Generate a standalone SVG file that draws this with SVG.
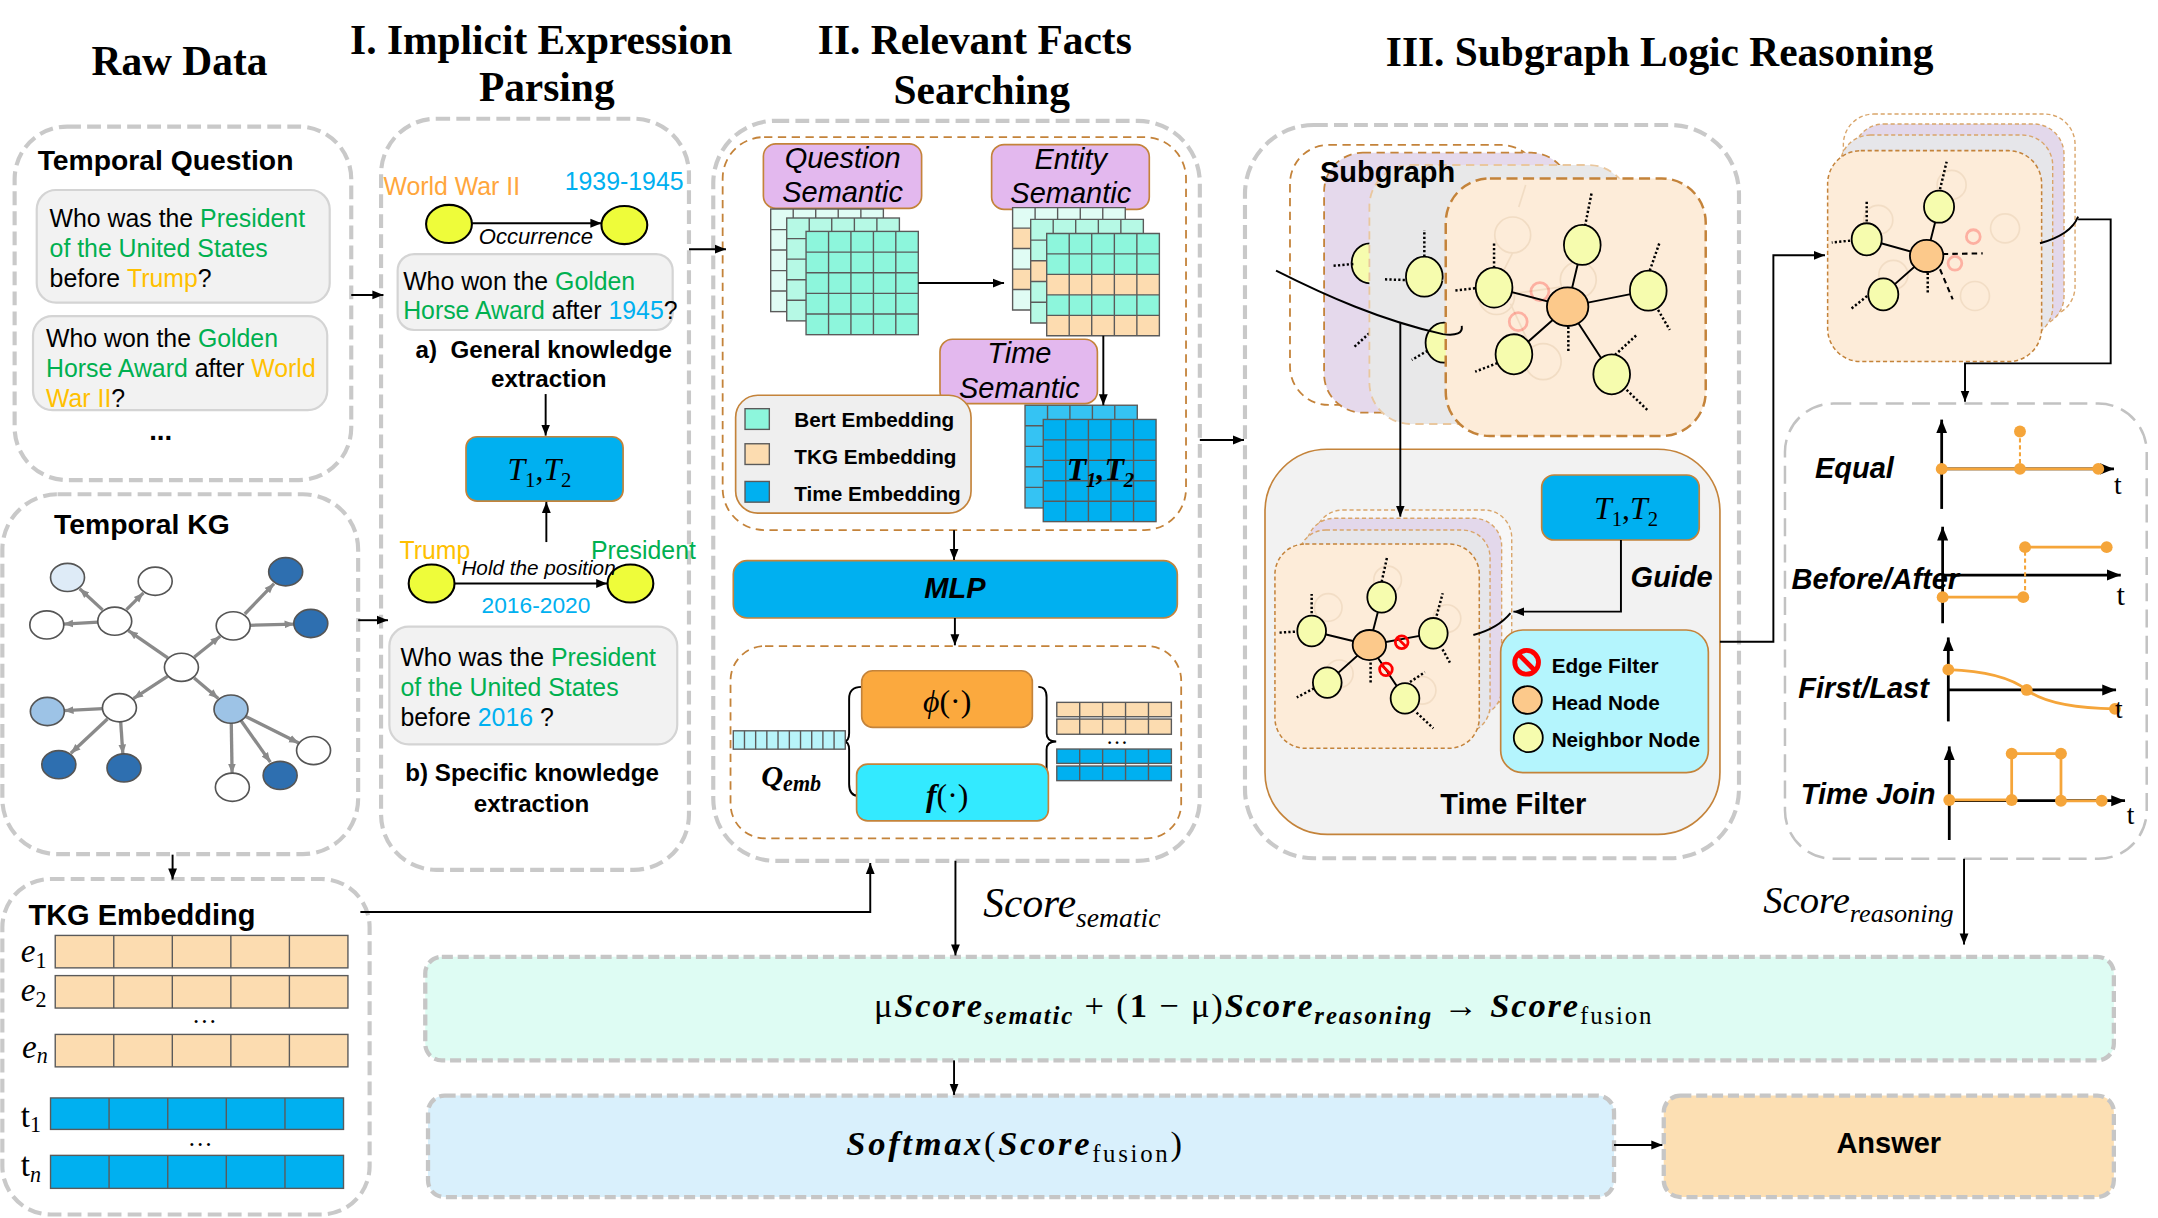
<svg xmlns="http://www.w3.org/2000/svg" width="2158" height="1218" viewBox="0 0 2158 1218">
<defs>
<style>
.ttl{font-family:"Liberation Serif","Times New Roman",serif;font-weight:bold;font-size:30px;fill:#000}
.sans{font-family:"Liberation Sans",Arial,sans-serif}
.serif{font-family:"Liberation Serif","Times New Roman",serif}
.b{font-weight:bold}
.i{font-style:italic}
.gb{fill:none;stroke:#c9c9c9;stroke-width:3;stroke-dasharray:10 4.5}
.qb{fill:#f2f2f2;stroke:#d4d4d4;stroke-width:1.6}
.cg{fill:#00b050}.cy{fill:#ffc000}.co{fill:#ffa63c}.cb{fill:#00b0f0}
.ln{fill:none;stroke:#000;stroke-width:1.4}
.od{fill:none;stroke:#c4833a;stroke-width:1.3;stroke-dasharray:6 4}
.ods{stroke:#c4833a;stroke-width:1.3;stroke-dasharray:6 4}
.cl{stroke:#5a5a5a;stroke-width:1}
.ye{fill:#eefc3a;stroke:#000;stroke-width:1.5}
.nb{fill:#f6fcae;stroke:#000;stroke-width:1.3}
.hd{fill:#fcc98b;stroke:#000;stroke-width:1.3}
.dt{fill:none;stroke:#000;stroke-width:1.8;stroke-dasharray:1.6 1.6}
.kg{stroke:#8a8a8a;stroke-width:2.4;fill:none}
.kn{stroke:#555;stroke-width:1.2}
.op{fill:none;stroke:#f5a53a;stroke-width:2}
.opd{fill:none;stroke:#f5a53a;stroke-width:1.5;stroke-dasharray:3 2}
.ax{fill:none;stroke:#000;stroke-width:2}
.fb{stroke:#c6c6c6;stroke-width:3.1;stroke-dasharray:8 3.5}
.ob{stroke:#c4833a;stroke-width:1.2}
.rf{fill:none;stroke:#f00;stroke-width:3.5}
.rs{fill:none;stroke:#f00;stroke-width:2}
</style>
<marker id="ah" viewBox="0 0 10 10" refX="10" refY="5" markerWidth="8" markerHeight="8" markerUnits="userSpaceOnUse" orient="auto"><path d="M0 1L10 5L0 9Z" fill="#000"/></marker>
<marker id="ahx" viewBox="0 0 10 10" refX="10" refY="5" markerWidth="10" markerHeight="10" markerUnits="userSpaceOnUse" orient="auto"><path d="M0 1L10 5L0 9Z" fill="#000"/></marker>
<marker id="ahg" viewBox="0 0 10 10" refX="10" refY="5" markerWidth="7" markerHeight="7" markerUnits="userSpaceOnUse" orient="auto"><path d="M0 1L10 5L0 9Z" fill="#8a8a8a"/></marker>
</defs>
<rect width="2158" height="1218" fill="#fff"/>
<g transform="scale(1.3807)">

<g id="titles">
<text class="ttl" x="130" y="54" text-anchor="middle">Raw Data</text>
<text class="ttl" x="392" y="39" text-anchor="middle">I. Implicit Expression</text>
<text class="ttl" x="396" y="73" text-anchor="middle">Parsing</text>
<text class="ttl" x="706" y="39" text-anchor="middle">II. Relevant Facts</text>
<text class="ttl" x="711" y="75" text-anchor="middle">Searching</text>
<text class="ttl" x="1202" y="48" text-anchor="middle">III. Subgraph Logic Reasoning</text>
</g>

<g id="temporal-question">
<rect class="gb" x="10.6" y="91.7" width="243.8" height="256" rx="38"/>
<text class="sans b" x="27.3" y="123" font-size="20.5">Temporal Question</text>
<rect class="qb" x="26.6" y="137.6" width="212.2" height="81.6" rx="14"/>
<text class="sans" font-size="18" x="35.9" y="164.2">Who was the <tspan class="cg">President</tspan></text>
<text class="sans cg" font-size="18" x="35.9" y="186">of the United States</text>
<text class="sans" font-size="18" x="35.9" y="207.6">before <tspan class="cy">Trump</tspan>?</text>
<rect class="qb" x="23.9" y="228.9" width="213.1" height="68.1" rx="14"/>
<text class="sans" font-size="18" x="33.3" y="251">Who won the <tspan class="cg">Golden</tspan></text>
<text class="sans" font-size="18" x="33.3" y="272.8"><tspan class="cg">Horse Award</tspan> after <tspan class="cy">World</tspan></text>
<text class="sans" font-size="18" x="33.3" y="294.5"><tspan class="cy">War II</tspan>?</text>
<text class="sans b" font-size="20" x="116.4" y="318.7" text-anchor="middle">...</text>
</g>

<g id="temporal-kg">
<rect class="gb" x="1.7" y="358" width="257.7" height="260.6" rx="40"/>
<text class="sans b" x="39.2" y="386.8" font-size="20.5">Temporal KG</text>
<g marker-end="url(#ahg)">
<line class="kg" x1="121.5" y1="476.5" x2="93" y2="456.7"/>
<line class="kg" x1="140.8" y1="475.8" x2="159.5" y2="460.8"/>
<line class="kg" x1="121.3" y1="489.9" x2="96.6" y2="506"/>
<line class="kg" x1="140.6" y1="491" x2="158.1" y2="505.9"/>
<line class="kg" x1="74.3" y1="441.7" x2="57.7" y2="426.4"/>
<line class="kg" x1="91.6" y1="441.5" x2="103.9" y2="429.4"/>
<line class="kg" x1="71.1" y1="450.6" x2="45.9" y2="452"/>
<line class="kg" x1="177.3" y1="444.7" x2="198.5" y2="422.7"/>
<line class="kg" x1="180.9" y1="452.9" x2="213.1" y2="452"/>
<line class="kg" x1="74.5" y1="513.2" x2="46.3" y2="514.7"/>
<line class="kg" x1="77.8" y1="520.8" x2="51.3" y2="545.6"/>
<line class="kg" x1="87.4" y1="522.6" x2="89" y2="546.2"/>
<line class="kg" x1="178" y1="519" x2="216.4" y2="538.2"/>
<line class="kg" x1="167.5" y1="523.6" x2="168.1" y2="560.2"/>
<line class="kg" x1="174.4" y1="521.6" x2="195.8" y2="552"/>
</g>
<g class="kn">
<ellipse cx="131.4" cy="483.3" rx="12.3" ry="10.2" fill="#fff"/>
<ellipse cx="83.1" cy="449.9" rx="12.3" ry="10.2" fill="#fff"/>
<ellipse cx="168.9" cy="453.3" rx="12.3" ry="10.2" fill="#fff"/>
<ellipse cx="86.5" cy="512.6" rx="12.3" ry="10.2" fill="#fff"/>
<ellipse cx="167.3" cy="513.6" rx="12.3" ry="10.2" fill="#9dc3e6"/>
<ellipse cx="48.9" cy="418.2" rx="12.3" ry="10.2" fill="#deebf7"/>
<ellipse cx="112.4" cy="421" rx="12.3" ry="10.2" fill="#fff"/>
<ellipse cx="33.9" cy="452.6" rx="12.3" ry="10.2" fill="#fff"/>
<ellipse cx="206.9" cy="414.1" rx="12.3" ry="10.2" fill="#2e6fb0"/>
<ellipse cx="225.1" cy="451.6" rx="12.3" ry="10.2" fill="#2e6fb0"/>
<ellipse cx="34.3" cy="515.3" rx="12.3" ry="10.2" fill="#9dc3e6"/>
<ellipse cx="42.6" cy="553.8" rx="12.3" ry="10.2" fill="#2e6fb0"/>
<ellipse cx="89.8" cy="556.2" rx="12.3" ry="10.2" fill="#2e6fb0"/>
<ellipse cx="227.1" cy="543.6" rx="12.3" ry="10.2" fill="#fff"/>
<ellipse cx="168.3" cy="570.2" rx="12.3" ry="10.2" fill="#fff"/>
<ellipse cx="202.9" cy="561.6" rx="12.3" ry="10.2" fill="#2e6fb0"/>
</g>
</g>

<g id="tkg-embedding">
<rect class="gb" x="1.7" y="636.6" width="266" height="243" rx="35"/>
<text class="sans b" x="20.6" y="669.7" font-size="21">TKG Embedding</text>
<g class="cl" fill="#fcdcb0">
<rect x="40" y="677.5" width="212" height="23.5"/>
<rect x="40" y="706.6" width="212" height="23.5"/>
<rect x="40" y="749.2" width="212" height="23.5"/>
</g>
<path class="cl" fill="none" d="M82.4 677.5V701M124.8 677.5V701M167.2 677.5V701M209.6 677.5V701M82.4 706.6V730.1M124.8 706.6V730.1M167.2 706.6V730.1M209.6 706.6V730.1M82.4 749.2V772.7M124.8 749.2V772.7M167.2 749.2V772.7M209.6 749.2V772.7"/>
<g class="cl" fill="#00b0f0">
<rect x="36.6" y="795.2" width="212.2" height="22.8"/>
<rect x="36.6" y="836.8" width="212.2" height="23.9"/>
</g>
<path class="cl" fill="none" d="M79 795.2V818M121.5 795.2V818M163.9 795.2V818M206.4 795.2V818M79 836.8V860.7M121.5 836.8V860.7M163.9 836.8V860.7M206.4 836.8V860.7"/>
<text class="serif" font-size="18" x="148" y="741" text-anchor="middle">…</text>
<text class="serif" font-size="18" x="145" y="830" text-anchor="middle">…</text>
<text class="serif i" font-size="24" x="15" y="697">e<tspan font-style="normal" font-size="16" dy="4">1</tspan></text>
<text class="serif i" font-size="24" x="15" y="725">e<tspan font-style="normal" font-size="16" dy="4">2</tspan></text>
<text class="serif i" font-size="24" x="16" y="766">e<tspan font-size="16" dy="4">n</tspan></text>
<text class="serif" font-size="24" x="15" y="816">t<tspan font-size="16" dy="4">1</tspan></text>
<text class="serif" font-size="24" x="15" y="852">t<tspan class="i" font-size="16" dy="4">n</tspan></text>
</g>

<g id="implicit-parsing">
<rect class="gb" x="276" y="86" width="223" height="544" rx="40"/>
<text class="sans co" font-size="18" x="277.7" y="141.2">World War II</text>
<text class="sans cb" font-size="18" x="409" y="137.6">1939-1945</text>
<ellipse class="ye" cx="325.2" cy="162.2" rx="16.6" ry="13.8"/>
<ellipse class="ye" cx="452.2" cy="163" rx="16.6" ry="13.8"/>
<text class="sans i" font-size="16" x="346.8" y="176.5">Occurrence</text>
<rect class="qb" x="288" y="184" width="199.2" height="55" rx="12"/>
<text class="sans" font-size="18" x="292" y="210">Who won the <tspan class="cg">Golden</tspan></text>
<text class="sans" font-size="18" x="292" y="231.3"><tspan class="cg">Horse Award</tspan> after <tspan class="cb">1945</tspan>?</text>
<text class="sans b" font-size="17.5" x="301" y="259.5" xml:space="preserve">a)  General knowledge</text>
<text class="sans b" font-size="17.5" x="397.4" y="280.5" text-anchor="middle">extraction</text>
<rect x="337.5" y="316.3" width="113.8" height="46.6" rx="8" fill="#00b0f0" class="ob"/>
<text class="serif" font-size="23" x="390.7" y="347.6" text-anchor="middle"><tspan class="i">T</tspan><tspan font-size="15" dy="5">1</tspan><tspan dy="-5">,</tspan><tspan class="i">T</tspan><tspan font-size="15" dy="5">2</tspan></text>
<text class="sans cy" font-size="18" x="289.3" y="404.9">Trump</text>
<text class="sans cg" font-size="18" x="428" y="404.9">President</text>
<ellipse class="ye" cx="312.6" cy="422.6" rx="16.6" ry="13.8"/>
<ellipse class="ye" cx="456.6" cy="422.6" rx="16.6" ry="13.8"/>
<text class="sans i" font-size="15" x="334.2" y="416.8">Hold the position</text>
<text class="sans cb" font-size="16.5" x="388.2" y="444.1" text-anchor="middle">2016-2020</text>
<rect class="qb" x="282" y="453.9" width="208.5" height="85.2" rx="14"/>
<text class="sans" font-size="18" x="290" y="482.3">Who was the <tspan class="cg">President</tspan></text>
<text class="sans cg" font-size="18" x="290" y="503.8">of the United States</text>
<text class="sans" font-size="18" x="290" y="525.6">before <tspan class="cb">2016</tspan> ?</text>
<text class="sans b" font-size="17.5" x="385.4" y="565.8" text-anchor="middle">b) Specific knowledge</text>
<text class="sans b" font-size="17.5" x="385" y="588" text-anchor="middle">extraction</text>
</g>

<g id="relevant-facts">
<rect class="gb" x="516.6" y="87.5" width="352.4" height="536" rx="45"/>
<rect class="od" x="523.4" y="99.3" width="335.6" height="284.6" rx="30"/>
<rect x="552.9" y="104.2" width="114.6" height="46.7" rx="9" fill="#e3b8ee" class="ob"/>
<text class="sans i" font-size="21" x="610.3" y="121.5" text-anchor="middle">Question</text>
<text class="sans i" font-size="21" x="610.3" y="146.6" text-anchor="middle">Semantic</text>
<rect x="718.2" y="104.7" width="114.2" height="46.9" rx="9" fill="#e3b8ee" class="ob"/>
<text class="sans i" font-size="21" x="775.5" y="122.7" text-anchor="middle">Entity</text>
<text class="sans i" font-size="21" x="775.5" y="147.1" text-anchor="middle">Semantic</text>
<rect x="558.2" y="151.4" width="81.6" height="74.3" fill="#e0fcf4" class="cl"/>
<path class="cl" fill="none" d="M574.5 151.4V225.7M590.8 151.4V225.7M607.1 151.4V225.7M623.5 151.4V225.7M558.2 166.3H639.8M558.2 181.1H639.8M558.2 196H639.8M558.2 210.8H639.8"/>
<rect x="569.8" y="157.9" width="81.6" height="74.5" fill="#b6f9e5" class="cl"/>
<path class="cl" fill="none" d="M586.1 157.9V232.4M602.4 157.9V232.4M618.8 157.9V232.4M635.1 157.9V232.4M569.8 172.8H651.4M569.8 187.7H651.4M569.8 202.6H651.4M569.8 217.5H651.4"/>
<rect x="583.8" y="167.6" width="81.3" height="74.8" fill="#8df6dc" class="cl"/>
<path class="cl" fill="none" d="M600.1 167.6V242.4M616.3 167.6V242.4M632.6 167.6V242.4M648.8 167.6V242.4M583.8 182.6H665.1M583.8 197.5H665.1M583.8 212.5H665.1M583.8 227.4H665.1"/>
<g>
<rect x="733.4" y="150.4" width="81.6" height="14.8" fill="#e0fcf4"/>
<rect x="733.4" y="165.2" width="81.6" height="14.8" fill="#fcdcb0"/>
<rect x="733.4" y="180" width="81.6" height="14.9" fill="#e0fcf4"/>
<rect x="733.4" y="194.9" width="81.6" height="14.8" fill="#fcdcb0"/>
<rect x="733.4" y="209.7" width="81.6" height="14.8" fill="#e0fcf4"/>
<path class="cl" fill="none" d="M733.4 150.4H815V224.5H733.4ZM749.7 150.4V224.5M766 150.4V224.5M782.4 150.4V224.5M798.7 150.4V224.5M733.4 165.2H815M733.4 180H815M733.4 194.9H815M733.4 209.7H815"/>
</g>
<g>
<rect x="746.5" y="158.9" width="81.6" height="30" fill="#b6f9e5"/>
<rect x="746.5" y="188.9" width="81.6" height="15" fill="#fcdcb0"/>
<rect x="746.5" y="203.9" width="81.6" height="30" fill="#b6f9e5"/>
<path class="cl" fill="none" d="M746.5 158.9H828.1V233.9H746.5ZM762.8 158.9V233.9M779.1 158.9V233.9M795.5 158.9V233.9M811.8 158.9V233.9M746.5 173.9H828.1M746.5 188.9H828.1M746.5 203.9H828.1M746.5 218.9H828.1"/>
</g>
<g>
<rect x="758.1" y="169.1" width="81.6" height="29.6" fill="#8df6dc"/>
<rect x="758.1" y="198.7" width="81.6" height="14.9" fill="#fddcb0"/>
<rect x="758.1" y="213.6" width="81.6" height="14.8" fill="#8df6dc"/>
<rect x="758.1" y="228.4" width="81.6" height="14.8" fill="#fddcb0"/>
<path class="cl" fill="none" d="M758.1 169.1H839.7V243.2H758.1ZM774.4 169.1V243.2M790.7 169.1V243.2M807.1 169.1V243.2M823.4 169.1V243.2M758.1 183.9H839.7M758.1 198.7H839.7M758.1 213.6H839.7M758.1 228.4H839.7"/>
</g>
<rect x="680.8" y="245.7" width="114" height="46.6" rx="9" fill="#e3b8ee" class="ob"/>
<text class="sans i" font-size="21" x="738.3" y="263.1" text-anchor="middle">Time</text>
<text class="sans i" font-size="21" x="738.3" y="288" text-anchor="middle">Semantic</text>
<rect x="742.4" y="293.5" width="81.3" height="74.4" fill="#35c3f3" class="cl"/>
<path class="cl" fill="none" d="M758.7 293.5V367.9M774.9 293.5V367.9M791.2 293.5V367.9M807.4 293.5V367.9M742.4 308.4H823.7M742.4 323.3H823.7M742.4 338.1H823.7M742.4 353H823.7"/>
<rect x="755.6" y="303.8" width="81.7" height="74" fill="#00b0f0" class="cl"/>
<path class="cl" fill="none" d="M771.9 303.8V377.8M788.3 303.8V377.8M804.6 303.8V377.8M821 303.8V377.8M755.6 318.6H837.3M755.6 333.4H837.3M755.6 348.2H837.3M755.6 363H837.3"/>
<text class="serif b i" font-size="23" x="797" y="348" text-anchor="middle">T<tspan font-size="15" dy="5">1</tspan><tspan dy="-5">,</tspan>T<tspan font-size="15" dy="5">2</tspan></text>
<rect x="532.8" y="286.3" width="170.5" height="85.3" rx="16" fill="#efefef" class="ob"/>
<rect x="539.6" y="296" width="17.6" height="15" fill="#8df6dc" class="cl"/>
<rect x="539.6" y="321.4" width="17.6" height="15" fill="#fcdcb0" class="cl"/>
<rect x="539.6" y="348.7" width="17.6" height="15" fill="#00b0f0" class="cl"/>
<text class="sans b" font-size="15" x="575.3" y="309">Bert Embedding</text>
<text class="sans b" font-size="15" x="575.3" y="336">TKG Embedding</text>
<text class="sans b" font-size="15" x="575.3" y="363">Time Embedding</text>
<rect x="531.1" y="406" width="321.6" height="41.6" rx="10" fill="#00b0f0" class="ob"/>
<text class="sans b i" font-size="21" x="691.6" y="433.3" text-anchor="middle">MLP</text>
<rect class="od" x="529.1" y="467.9" width="326.4" height="139.3" rx="25"/>
<path class="ln" d="M624 497.5Q615 497.5 615 506V531Q615 537 611 537Q615 537 615 543V568Q615 576.5 622 576.5"/>
<path class="ln" d="M752 497.5Q758 497.5 758 505V531Q758 537 765 537Q758 537 758 543V570"/>
<rect x="624.1" y="485.8" width="123.6" height="41" rx="8" fill="#fba93e" class="ob"/>
<text class="serif" font-size="23" x="686" y="515.4" text-anchor="middle"><tspan class="i">ϕ</tspan>(·)</text>
<rect x="620.4" y="553.4" width="138.9" height="41.1" rx="8" fill="#33eaff" class="ob"/>
<text class="serif" font-size="23" x="686" y="583.8" text-anchor="middle"><tspan class="b i">f</tspan>(·)</text>
<rect x="531.1" y="529.3" width="81.1" height="13.3" fill="#b8f4fa" class="cl"/>
<path class="cl" fill="none" d="M539.2 529.3V542.6M547.3 529.3V542.6M555.4 529.3V542.6M563.5 529.3V542.6M571.7 529.3V542.6M579.8 529.3V542.6M587.9 529.3V542.6M596 529.3V542.6M604.1 529.3V542.6"/>
<text class="serif b i" font-size="22" x="551.3" y="569.6">Q<tspan font-size="16" dy="3">emb</tspan></text>
<rect x="765.4" y="508.7" width="83" height="10.4" fill="#fcdcb0" class="cl"/>
<rect x="765.4" y="520.8" width="83" height="11" fill="#fcdcb0" class="cl"/>
<rect x="765.4" y="542.5" width="83" height="10.4" fill="#00b0f0" class="cl"/>
<rect x="765.4" y="554.8" width="83" height="10.6" fill="#00b0f0" class="cl"/>
<path class="cl" fill="none" d="M782 508.7V531.8M798.6 508.7V531.8M815.2 508.7V531.8M831.8 508.7V531.8M782 542.5V565.4M798.6 542.5V565.4M815.2 542.5V565.4M831.8 542.5V565.4"/>
<text class="serif" font-size="16" x="809" y="539" text-anchor="middle">…</text>
</g>

<g id="subgraph-reasoning">
<rect class="gb" x="901.7" y="90.5" width="357.8" height="531.1" rx="50"/>
<rect x="934.3" y="105" width="181" height="188.3" rx="28" fill="#fff" class="ods"/>
<rect x="959" y="110.6" width="178" height="188.3" rx="28" fill="#e5d9ec" class="ods"/>
<ellipse class="nb" cx="992.2" cy="190.7" rx="13.3" ry="14.5"/>
<line class="dt" x1="980.2" y1="191.2" x2="964.5" y2="192.6"/>
<line class="dt" x1="991.7" y1="241.4" x2="980.6" y2="251.5"/>
<rect x="991.8" y="119.5" width="188.8" height="187.6" rx="30" fill="#e8e8e9" stroke="#e9c79e" stroke-width="1.3" stroke-dasharray="6 4"/>
<ellipse class="nb" cx="1031.6" cy="200.4" rx="13.3" ry="14.5"/>
<ellipse class="nb" cx="1045.8" cy="248.2" rx="13.3" ry="14.5"/>
<line class="dt" x1="1017.5" y1="202.8" x2="1002" y2="202.3"/>
<line class="dt" x1="1031.6" y1="185.9" x2="1031.6" y2="166.6"/>
<line class="dt" x1="1034" y1="254" x2="1022.5" y2="260.7"/>
<line stroke="#ccc" stroke-width="1" x1="1044.7" y1="203" x2="1068" y2="207"/>
<rect x="1047.1" y="129.2" width="188.3" height="186.6" rx="32" fill="#fdecd9" stroke="#c4833a" stroke-width="1.8" stroke-dasharray="8 4"/>
<g opacity="0.22" fill="none" stroke="#c9a57a" stroke-width="1.2">
<circle cx="1095.6" cy="170.2" r="13"/>
<circle cx="1143.1" cy="202.7" r="13"/>
<circle cx="1083.9" cy="214.8" r="13"/>
<circle cx="1117.7" cy="261.9" r="13"/>
<path d="M1095.6 183L1086 202M1094 220L1108 250M1093 213L1130 208M1100 150L1105 134"/>
</g>
<g opacity="0.25">
<circle class="rs" cx="1115.3" cy="211.2" r="6.5"/>
<circle class="rs" cx="1099.6" cy="233" r="6.5"/>
</g>
<path class="ln" d="M1135.4 222.1L1082.1 208.3M1135.4 222.1L1146 177.4M1135.4 222.1L1193.8 210.5M1135.4 222.1L1096.5 256.6M1135.4 222.1L1167.3 271.1"/>
<path class="dt" d="M1082.1 194L1082.1 175M1068.4 208.8L1052.7 210.5M1148 163.7L1152.8 139.5M1194.9 196L1202.2 175M1200.9 224.5L1209.4 239M1084.5 263L1068.4 269.2M1169.7 257.1L1185.4 242.6M1178.1 282.4L1193.1 296.9M1135.9 236.6L1135.9 255.9"/>
<ellipse class="hd" cx="1135.4" cy="222.1" rx="15" ry="14"/>
<ellipse class="nb" cx="1082.1" cy="208.3" rx="13.3" ry="14.5"/>
<ellipse class="nb" cx="1146" cy="177.4" rx="13.3" ry="14.5"/>
<ellipse class="nb" cx="1193.8" cy="210.5" rx="13.3" ry="14.5"/>
<ellipse class="nb" cx="1096.5" cy="256.6" rx="13.3" ry="14.5"/>
<ellipse class="nb" cx="1167.3" cy="271.1" rx="13.3" ry="14.5"/>
<text class="sans b" font-size="21" x="956" y="131.6">Subgraph</text>
</g>

<g id="time-filter">
<rect x="916.2" y="325.4" width="329.5" height="278.9" rx="45" fill="#f2f2f2" class="ob"/>
<rect x="952.4" y="369.4" width="142.5" height="142.4" rx="20" fill="#f7f7f7" stroke="#d9a56a" stroke-width="1" stroke-dasharray="3 2"/>
<rect x="946.4" y="375.4" width="141.2" height="143.6" rx="20" fill="#e3d8eb" stroke="#d9a56a" stroke-width="1" stroke-dasharray="3 2"/>
<rect x="940.3" y="383.9" width="138.9" height="147.2" rx="20" fill="#e6e6ea" stroke="#d9a56a" stroke-width="1" stroke-dasharray="3 2"/>
<rect x="923.4" y="394" width="148" height="148" rx="22" fill="#fdecd9" stroke="#c4833a" stroke-width="1.1" stroke-dasharray="3 2"/>
<g opacity="0.2" fill="none" stroke="#c9a57a" stroke-width="1.2">
<circle cx="1005" cy="420" r="10"/>
<circle cx="962" cy="440" r="10"/>
<circle cx="1048" cy="448" r="10"/>
<circle cx="1030" cy="500" r="10"/>
<circle cx="970" cy="488" r="10"/>
</g>
<path class="ln" d="M991.8 467.2L1000.7 432.6M991.8 467.2L950 457M991.8 467.2L1038.1 458.7M991.8 467.2L961.3 494.4M991.8 467.2L1017.6 505.8"/>
<path class="dt" d="M1000.7 421.4L1004.8 402.8M950 444.2L950 430.2M937.9 457.5L926.6 458.2M1040.5 446L1044.9 429.7M1044.8 470.3L1050.1 479.9M951.7 498.6L939.2 505.1M1021.2 494L1032 486.8M1026 516.1L1038.1 527.5M992.7 479.9L992.7 494.4"/>
<ellipse class="hd" cx="991.8" cy="467.2" rx="12.1" ry="10.9"/>
<ellipse class="nb" cx="1000.7" cy="432.6" rx="10.4" ry="11.1"/>
<ellipse class="nb" cx="950" cy="457" rx="10.4" ry="11.1"/>
<ellipse class="nb" cx="1038.1" cy="458.7" rx="10.4" ry="11.1"/>
<ellipse class="nb" cx="961.3" cy="494.4" rx="10.4" ry="11.1"/>
<ellipse class="nb" cx="1017.6" cy="505.8" rx="10.4" ry="11.1"/>
<g>
<circle class="rs" cx="1015.2" cy="465.2" r="4.6"/>
<line class="rs" x1="1012" y1="462" x2="1018.4" y2="468.4"/>
<circle class="rs" cx="1003.8" cy="484.8" r="4.6"/>
<line class="rs" x1="1000.6" y1="481.6" x2="1007" y2="488"/>
</g>
<rect x="1116.6" y="344" width="114.1" height="47.1" rx="9" fill="#00b0f0" class="ob"/>
<text class="serif" font-size="23" x="1177.7" y="376" text-anchor="middle"><tspan class="i">T</tspan><tspan font-size="15" dy="5">1</tspan><tspan dy="-5">,</tspan><tspan class="i">T</tspan><tspan font-size="15" dy="5">2</tspan></text>
<text class="sans b i" font-size="21" x="1181" y="424.9">Guide</text>
<rect x="1086.9" y="456.3" width="150.4" height="103.3" rx="16" fill="#b4f5fd" class="ob"/>
<circle class="rf" cx="1105.7" cy="479.7" r="8.6"/>
<line class="rf" x1="1099.6" y1="473.6" x2="1111.8" y2="485.8"/>
<ellipse class="hd" cx="1106.2" cy="507" rx="10.5" ry="10"/>
<ellipse class="nb" cx="1106.9" cy="534.3" rx="10.5" ry="10.5"/>
<text class="sans b" font-size="15" x="1123.8" y="487.2">Edge Filter</text>
<text class="sans b" font-size="15" x="1123.8" y="514.2">Head Node</text>
<text class="sans b" font-size="15" x="1123.8" y="541.3">Neighbor Node</text>
<text class="sans b" font-size="21" x="1096.1" y="589.6" text-anchor="middle">Time Filter</text>
</g>

<g id="filtered-subgraph">
<rect x="1335.1" y="82.6" width="167.8" height="146.8" rx="22" fill="#fff" stroke="#d9a56a" stroke-width="1" stroke-dasharray="3 2"/>
<rect x="1342.3" y="89.8" width="152.6" height="146.8" rx="22" fill="#e3d8eb" stroke="#d9a56a" stroke-width="1" stroke-dasharray="3 2"/>
<rect x="1332.7" y="97.8" width="154" height="146.5" rx="22" fill="#e6e6ea" stroke="#d9a56a" stroke-width="1" stroke-dasharray="3 2"/>
<rect x="1323.7" y="109.1" width="155" height="152.8" rx="24" fill="#fdecd9" stroke="#c4833a" stroke-width="1.1" stroke-dasharray="3 2"/>
<g opacity="0.2" fill="none" stroke="#c9a57a" stroke-width="1.2">
<circle cx="1452.2" cy="165.4" r="10.5"/>
<circle cx="1430.4" cy="214.4" r="10.5"/>
<circle cx="1413.5" cy="133.9" r="10.5"/>
<circle cx="1371.3" cy="199.1" r="10.5"/>
<circle cx="1360.4" cy="159.3" r="10.5"/>
</g>
<g opacity="0.25">
<circle class="rs" cx="1429.2" cy="171.4" r="5"/>
<circle class="rs" cx="1415.9" cy="190.7" r="5"/>
</g>
<path class="ln" d="M1395.4 185.4L1352 173.3M1395.4 185.4L1404.4 149.7M1395.4 185.4L1364 213.2"/>
<path fill="none" stroke="#000" stroke-width="1.5" stroke-dasharray="4 3" d="M1407 184L1436 183.5M1405.1 195L1414.3 216.8"/>
<path class="dt" d="M1396.2 197.5L1396.2 212.9M1352 160.5L1352 146M1340 174.3L1326.7 175.7M1405.1 137.1L1409.9 117.1M1352.3 214.4L1340.2 224.1"/>
<ellipse class="hd" cx="1395.4" cy="185.4" rx="12.1" ry="11.6"/>
<ellipse class="nb" cx="1352" cy="173.3" rx="10.9" ry="11.6"/>
<ellipse class="nb" cx="1404.4" cy="149.7" rx="10.9" ry="11.6"/>
<ellipse class="nb" cx="1364" cy="213.2" rx="10.9" ry="11.6"/>
</g>

<g id="temporal-operators">
<rect x="1292.8" y="292.3" width="262" height="329.7" rx="35" fill="none" stroke="#c2c2c2" stroke-width="1.8" stroke-dasharray="13 6"/>
<g marker-end="url(#ahx)">
<line class="ax" x1="1406.3" y1="368.6" x2="1406.3" y2="303.9"/>
<line class="ax" x1="1406.3" y1="339.6" x2="1531.1" y2="339.6"/>
<line class="ax" x1="1407" y1="451.4" x2="1407" y2="381.5"/>
<line class="ax" x1="1407" y1="416.5" x2="1536" y2="416.5"/>
<line class="ax" x1="1411.1" y1="522.5" x2="1411.1" y2="461.7"/>
<line class="ax" x1="1411.1" y1="499.7" x2="1532.6" y2="499.7"/>
<line class="ax" x1="1411.8" y1="608.4" x2="1411.8" y2="540.6"/>
<line class="ax" x1="1411.8" y1="579.9" x2="1539.1" y2="579.9"/>
</g>
<line class="op" x1="1406.3" y1="339.6" x2="1519.7" y2="339.6"/>
<line class="opd" x1="1463" y1="312.5" x2="1463" y2="339.6"/>
<line class="op" x1="1407" y1="432.5" x2="1465.4" y2="432.5"/>
<line class="opd" x1="1466.7" y1="432.5" x2="1466.7" y2="396.3"/>
<line class="op" x1="1466.7" y1="396.3" x2="1525.8" y2="396.3"/>
<path class="op" d="M1411.1 485C1440 486 1458 492 1467.9 499.7C1480 509 1505 513 1531.8 513.4"/>
<path class="op" d="M1411.8 579.4H1457V545.8H1492.7V580H1522.2"/>
<g fill="#f5a53a">
<circle cx="1406.3" cy="339.6" r="4.3"/><circle cx="1463" cy="339.6" r="4.3"/><circle cx="1519.7" cy="339.6" r="4.3"/><circle cx="1463" cy="312.5" r="4.3"/>
<circle cx="1407" cy="432.5" r="4.3"/><circle cx="1465.4" cy="432.5" r="4.3"/><circle cx="1466.7" cy="396.3" r="4.3"/><circle cx="1525.8" cy="396.3" r="4.3"/>
<circle cx="1411.1" cy="485" r="4.3"/><circle cx="1467.9" cy="499.7" r="4.3"/><circle cx="1531.8" cy="513.4" r="4.3"/>
<circle cx="1411.8" cy="579.4" r="4.3"/><circle cx="1457" cy="579.4" r="4.3"/><circle cx="1457" cy="545.8" r="4.3"/><circle cx="1492.7" cy="545.8" r="4.3"/><circle cx="1492.7" cy="580" r="4.3"/><circle cx="1522.2" cy="580" r="4.3"/>
</g>
<text class="sans b i" font-size="21" x="1314.5" y="346.1">Equal</text>
<text class="sans b i" font-size="21" x="1297.6" y="426.8">Before/After</text>
<text class="sans b i" font-size="21" x="1302.5" y="505.7">First/Last</text>
<text class="sans b i" font-size="21" x="1304.2" y="582">Time Join</text>
<text class="serif" font-size="20" x="1531.1" y="357.5">t</text>
<text class="serif" font-size="22" x="1533" y="438.4">t</text>
<text class="serif" font-size="20" x="1531.8" y="520">t</text>
<text class="serif" font-size="20" x="1540.3" y="597">t</text>
</g>

<g id="fusion">
<rect x="308" y="693" width="1223" height="75" rx="12" fill="#defcf3" class="fb"/>
<text class="serif" font-size="25" x="633" y="736.3" textLength="563" lengthAdjust="spacing">μ<tspan class="b i">Score</tspan><tspan class="b i" font-size="18" dy="5">sematic</tspan><tspan dy="-5"> + (</tspan><tspan class="b">1</tspan> − μ)<tspan class="b i">Score</tspan><tspan class="b i" font-size="18" dy="5">reasoning</tspan><tspan dy="-5"> → </tspan><tspan class="b i">Score</tspan><tspan font-size="18" dy="5">fusion</tspan></text>
</g>
<g id="softmax">
<rect x="310" y="793.5" width="859" height="73.5" rx="12" fill="#d9f0fc" class="fb"/>
<text class="serif" font-size="25" x="613" y="836.5" textLength="243" lengthAdjust="spacing"><tspan class="b i">Softmax</tspan>(<tspan class="b i">Score</tspan><tspan font-size="18" dy="5">fusion</tspan><tspan dy="-5">)</tspan></text>
</g>
<g id="answer">
<rect x="1205" y="793.5" width="326" height="73.5" rx="12" fill="#fcdfb3" class="fb"/>
<text class="sans b" font-size="21" x="1368" y="835.3" text-anchor="middle">Answer</text>
</g>

<g id="labels">
<text class="serif i" font-size="30" x="712.2" y="663.9">Score<tspan font-size="20" dy="7.7">sematic</tspan></text>
<text class="serif i" font-size="28" x="1277.1" y="660.9">Score<tspan font-size="19" dy="7">reasoning</tspan></text>
</g>

<g id="connectors">
<line class="ln" x1="254.4" y1="213.6" x2="277.7" y2="213.6" marker-end="url(#ah)"/>
<line class="ln" x1="259.4" y1="449.2" x2="281" y2="449.2" marker-end="url(#ah)"/>
<line class="ln" x1="125" y1="619" x2="125" y2="637" marker-end="url(#ah)"/>
<polyline class="ln" points="261,660.5 630.3,660.5 630.3,625" marker-end="url(#ah)"/>
<line class="ln" x1="341.9" y1="161.7" x2="435.6" y2="161.7" marker-end="url(#ah)"/>
<line class="ln" x1="395.2" y1="285.4" x2="395.2" y2="315.5" marker-end="url(#ah)"/>
<line class="ln" x1="395.7" y1="392.6" x2="395.7" y2="363.5" marker-end="url(#ah)"/>
<line class="ln" x1="329.2" y1="422.6" x2="439.8" y2="422.6" marker-end="url(#ah)"/>
<line class="ln" x1="499" y1="180.5" x2="525.8" y2="180.5" marker-end="url(#ah)"/>
<line class="ln" x1="665.1" y1="205" x2="727.2" y2="205" marker-end="url(#ah)"/>
<line class="ln" x1="799.1" y1="243.2" x2="799.1" y2="293.5" marker-end="url(#ah)"/>
<line class="ln" x1="691" y1="384" x2="691" y2="405.6" marker-end="url(#ah)"/>
<line class="ln" x1="691.6" y1="447.6" x2="691.6" y2="467.4" marker-end="url(#ah)"/>
<line class="ln" x1="869" y1="318.7" x2="901" y2="318.7" marker-end="url(#ah)"/>
<path class="ln" d="M924.2 196C960 214 1000 232 1045 242Q1060 244 1058.7 236"/>
<line class="ln" x1="1014.2" y1="234.2" x2="1014.2" y2="374.2" marker-end="url(#ah)"/>
<polyline class="ln" points="1174,391.1 1174,443 1096.1,443" marker-end="url(#ah)"/>
<path class="ln" d="M1067.1 459.9Q1085 455 1094 444"/>
<polyline class="ln" points="1245.7,464.8 1284.4,464.8 1284.4,184.9 1321.8,184.9" marker-end="url(#ah)"/>
<path class="ln" d="M1477.5 176.2Q1500 170 1505.1 156.9"/>
<polyline class="ln" points="1505.1,158.9 1528.7,158.9 1528.7,263.2 1423.2,263.2 1423.2,290.9" marker-end="url(#ah)"/>
<line class="ln" x1="1422.5" y1="622" x2="1422.5" y2="684.1" marker-end="url(#ah)"/>
<line class="ln" x1="692" y1="623.4" x2="692" y2="692" marker-end="url(#ah)"/>
<line class="ln" x1="691" y1="768" x2="691" y2="793" marker-end="url(#ah)"/>
<line class="ln" x1="1169" y1="829.3" x2="1204" y2="829.3" marker-end="url(#ah)"/>
</g>
</g>
</svg>
